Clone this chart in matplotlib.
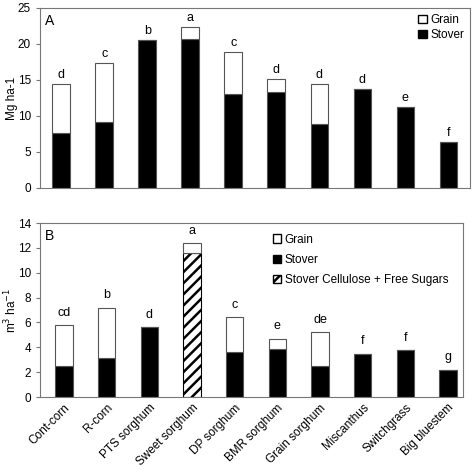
import numpy as np
import matplotlib.pyplot as plt
from matplotlib.patches import Patch

crops = ['Cont-corn', 'R-corn', 'PTS sorghum', 'Sweet sorghum', 'DP sorghum',
         'BMR sorghum', 'Grain sorghum', 'Miscanthus', 'Switchgrass', 'Big bluestem']

# panel A, Mg ha-1
stover_a = [7.6, 9.2, 20.6, 20.7, 13.0, 13.4, 8.9, 13.8, 11.3, 6.4]
grain_a = [6.8, 8.2, 0.0, 1.7, 5.9, 1.7, 5.6, 0.0, 0.0, 0.0]
letters_a = ['d', 'c', 'b', 'a', 'c', 'd', 'd', 'd', 'e', 'f']

# panel B, m3 ha-1
stover_b = [2.5, 3.1, 5.6, 0.0, 3.6, 3.9, 2.5, 3.5, 3.8, 2.2]
sugars_b = [0.0, 0.0, 0.0, 11.6, 0.0, 0.0, 0.0, 0.0, 0.0, 0.0]
grain_b = [3.3, 4.1, 0.0, 0.8, 2.8, 0.8, 2.7, 0.0, 0.0, 0.0]
letters_b = ['cd', 'b', 'd', 'a', 'c', 'e', 'de', 'f', 'f', 'g']

plt.rcParams['font.family'] = 'Liberation Sans'
plt.rcParams['hatch.linewidth'] = 1.8
x = np.arange(len(crops))
w = 0.41
edge = '#555555'

fig = plt.figure(figsize=(4.74, 4.70), dpi=100)
axA = fig.add_axes([40/474, 1-188/470, 430/474, 180/470])
axB = fig.add_axes([40/474, 1-397/470, 423/474, 174/470])

# --- A ---
axA.bar(x, stover_a, w, color='black', edgecolor=edge, lw=0.8)
axA.bar(x, grain_a, w, bottom=stover_a, color='white', edgecolor=edge, lw=0.8)
tot_a = np.array(stover_a) + np.array(grain_a)
for i in range(len(x)):
    axA.text(x[i], tot_a[i] + 0.4, letters_a[i], ha='center', va='bottom', fontsize=9)
axA.set_ylim(0, 25)
axA.set_xlim(-0.49, 9.5)
axA.set_yticks(range(0, 26, 5))
axA.set_xticks([])
axA.set_ylabel('Mg ha-1', fontsize=8.5)
axA.yaxis.set_label_coords(-0.05, 0.5)
axA.text(0.012, 0.965, 'A', transform=axA.transAxes, fontsize=10, va='top')
axA.legend(handles=[Patch(fc='white', ec='black', label='Grain'),
                    Patch(fc='black', ec='black', label='Stover')],
           loc='upper right', frameon=False, fontsize=8.5, handlelength=0.7,
           handleheight=0.7, handletextpad=0.3, borderaxespad=0.1, labelspacing=0.3)

# --- B ---
axB.bar(x, stover_b, w, color='black', edgecolor=edge, lw=0.8)
axB.bar(x, sugars_b, w, color='white', edgecolor='black', hatch='///', lw=0.8)
bot_b = np.array(stover_b) + np.array(sugars_b)
axB.bar(x, grain_b, w, bottom=bot_b, color='white', edgecolor=edge, lw=0.8)
tot_b = bot_b + np.array(grain_b)
for i in range(len(x)):
    axB.text(x[i], tot_b[i] + 0.5, letters_b[i], ha='center', va='bottom', fontsize=9)
axB.set_ylim(0, 14)
axB.set_xlim(-0.56, 9.35)
axB.set_yticks(range(0, 15, 2))
axB.set_xticks(x)
axB.set_xticklabels(crops, rotation=45, ha='right', rotation_mode='anchor', fontsize=8.5)
axB.set_ylabel('m$^3$ ha$^{-1}$', fontsize=8.5)
axB.yaxis.set_label_coords(-0.05, 0.5)
axB.text(0.012, 0.965, 'B', transform=axB.transAxes, fontsize=10, va='top')
axB.legend(handles=[Patch(fc='white', ec='black', label='Grain'),
                    Patch(fc='black', ec='black', label='Stover'),
                    Patch(fc='white', ec='black', hatch='///', label='Stover Cellulose + Free Sugars')],
           loc='upper right', bbox_to_anchor=(0.99, 1.0), frameon=False, fontsize=8.5,
           handlelength=0.7, handleheight=0.7, handletextpad=0.3, labelspacing=0.7)

for ax in (axA, axB):
    for s in ax.spines.values():
        s.set_color('#777777')
    ax.tick_params(axis='y', labelsize=8.5, length=3, color='#777777')
    ax.tick_params(axis='x', length=0)

fig.savefig('out.png', dpi=100)
